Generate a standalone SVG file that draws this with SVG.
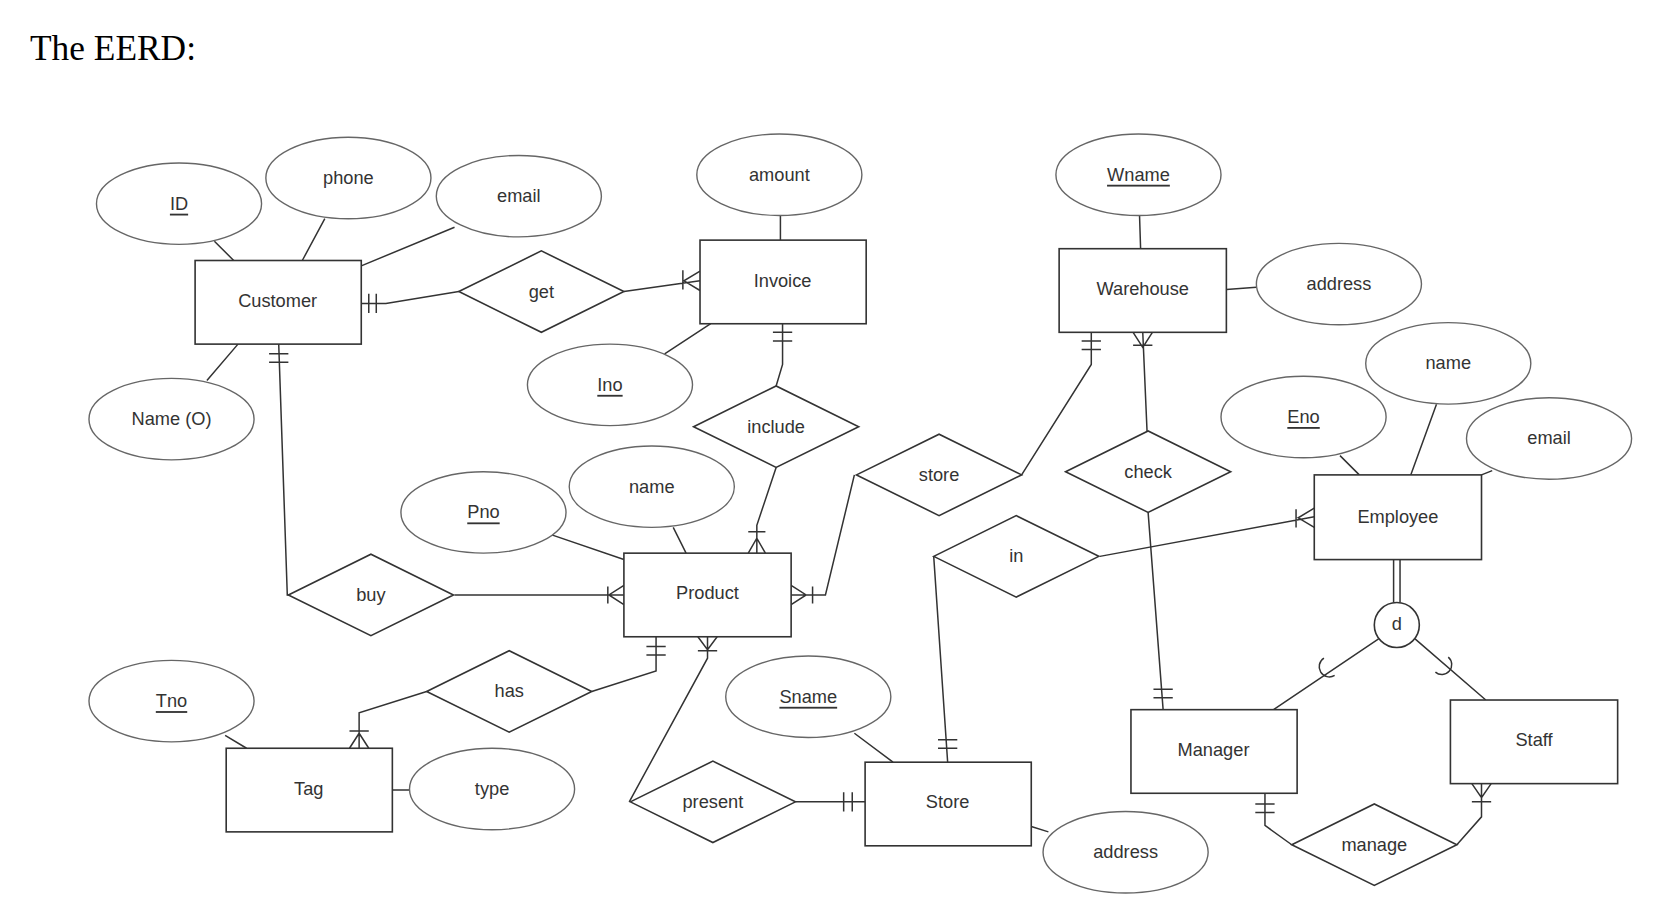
<svg xmlns="http://www.w3.org/2000/svg" width="1676" height="900" viewBox="0 0 1676 900">
<style>
.e{fill:#fff;stroke:#666;stroke-width:1.3}
.r{fill:#fff;stroke:#333;stroke-width:1.5}
.c{fill:none;stroke:#333;stroke-width:1.4}
text{font-family:"Liberation Sans",Arial,sans-serif;font-size:17px;fill:#333;text-anchor:middle;dominant-baseline:central}
.u{text-decoration:underline}
</style>
<rect width="1676" height="900" fill="#fff"/>
<g transform="scale(1.072)">
<text x="28" y="45" style="font-family:'Liberation Serif',serif;font-size:33px;fill:#000;text-anchor:start">The EERD:</text>
<g id="connectors" class="c">
<path d="M200,225L218,243M303,204L282,243M424,212L337,248M193,355L222,321"/>
<path d="M337,283L360,283L428,272M344,274V292M351,274V292"/>
<path d="M582,272L653,262M637,252V270M653,253L638,262L653,271"/>
<path d="M728,201V224M620,330L663,302"/>
<path d="M730,302V340L724,360M721,310H739M721,318H739"/>
<path d="M724,436L706,490V516M698,496H714M698,516L706,502L714,516"/>
<path d="M260,321L268,555L270,555M251,330H269M251,338H269"/>
<path d="M424,555H582M567,547V563M582,546L568,555L582,564"/>
<path d="M512,498L582,522M628,492L640,516"/>
<path d="M738,555H770L797,443M758,547V563M738,546L752,555L738,564"/>
<path d="M953,443L1018,340V310M1009,318H1027M1009,326H1027"/>
<path d="M1144,270L1172,268M1063,201L1064,232"/>
<path d="M1066,310L1070,402M1057,322H1075M1057,310L1066,324L1075,310"/>
<path d="M1071,478L1085,662M1076,643H1094M1076,651H1094"/>
<path d="M1026,519L1226,482M1209,475V492M1226,474L1211,483L1226,492"/>
<path d="M871,519L884,711M875,690H893M875,698H893"/>
<path d="M1250,425L1268,443M1340,377L1316,443M1392,439L1382,443"/>
<path d="M1300,522V562M1306,522V562"/>
<path d="M1286,596L1188,662M1320,596L1386,653"/>
<path d="M1235,614A9,9 0 0 0 1245,630M1339,627A9,9 0 0 0 1351,613"/>
<path d="M1180,740V770L1205,788M1171,750H1189M1171,758H1189"/>
<path d="M1359,788L1382,762V731M1373,748H1391M1373,731L1382,744L1391,731"/>
<path d="M612,594V626L552,645M603,603H621M603,611H621"/>
<path d="M398,645L335,665V698M326,682H344M326,698L335,684L344,698"/>
<path d="M210,686L230,698M366,737H382"/>
<path d="M660,594V614L587,748M651,607H669M651,594L660,606L669,594"/>
<path d="M742,748H807M787,739V757M795,739V757"/>
<path d="M797,684L833,711M962,771L978,776"/>
</g>
<g id="n_ID"><ellipse class="e" cx="167" cy="190" rx="77" ry="38"/><text class="u" x="167" y="190">ID</text></g>
<g id="n_phone"><ellipse class="e" cx="325" cy="166" rx="77" ry="38"/><text x="325" y="166">phone</text></g>
<g id="n_email"><ellipse class="e" cx="484" cy="183" rx="77" ry="38"/><text x="484" y="183">email</text></g>
<g id="n_nameO"><ellipse class="e" cx="160" cy="391" rx="77" ry="38"/><text x="160" y="391">Name (O)</text></g>
<g id="n_amount"><ellipse class="e" cx="727" cy="163" rx="77" ry="38"/><text x="727" y="163">amount</text></g>
<g id="n_Ino"><ellipse class="e" cx="569" cy="359" rx="77" ry="38"/><text class="u" x="569" y="359">Ino</text></g>
<g id="n_Wname"><ellipse class="e" cx="1062" cy="163" rx="77" ry="38"/><text class="u" x="1062" y="163">Wname</text></g>
<g id="n_waddr"><ellipse class="e" cx="1249" cy="265" rx="77" ry="38"/><text x="1249" y="265">address</text></g>
<g id="n_ename"><ellipse class="e" cx="1351" cy="339" rx="77" ry="38"/><text x="1351" y="339">name</text></g>
<g id="n_Eno"><ellipse class="e" cx="1216" cy="389" rx="77" ry="38"/><text class="u" x="1216" y="389">Eno</text></g>
<g id="n_eemail"><ellipse class="e" cx="1445" cy="409" rx="77" ry="38"/><text x="1445" y="409">email</text></g>
<g id="n_Pno"><ellipse class="e" cx="451" cy="478" rx="77" ry="38"/><text class="u" x="451" y="478">Pno</text></g>
<g id="n_pname"><ellipse class="e" cx="608" cy="454" rx="77" ry="38"/><text x="608" y="454">name</text></g>
<g id="n_Tno"><ellipse class="e" cx="160" cy="654" rx="77" ry="38"/><text class="u" x="160" y="654">Tno</text></g>
<g id="n_type"><ellipse class="e" cx="459" cy="736" rx="77" ry="38"/><text x="459" y="736">type</text></g>
<g id="n_Sname"><ellipse class="e" cx="754" cy="650" rx="77" ry="38"/><text class="u" x="754" y="650">Sname</text></g>
<g id="n_saddr"><ellipse class="e" cx="1050" cy="795" rx="77" ry="38"/><text x="1050" y="795">address</text></g>
<g id="Customer"><rect class="r" x="182" y="243" width="155" height="78"/><text x="259" y="281">Customer</text></g>
<g id="Invoice"><rect class="r" x="653" y="224" width="155" height="78"/><text x="730" y="262">Invoice</text></g>
<g id="Warehouse"><rect class="r" x="988" y="232" width="156" height="78"/><text x="1066" y="270">Warehouse</text></g>
<g id="Employee"><rect class="r" x="1226" y="443" width="156" height="79"/><text x="1304" y="482">Employee</text></g>
<g id="Product"><rect class="r" x="582" y="516" width="156" height="78"/><text x="660" y="553">Product</text></g>
<g id="Tag"><rect class="r" x="211" y="698" width="155" height="78"/><text x="288" y="736">Tag</text></g>
<g id="Store"><rect class="r" x="807" y="711" width="155" height="78"/><text x="884" y="748">Store</text></g>
<g id="Manager"><rect class="r" x="1055" y="662" width="155" height="78"/><text x="1132" y="700">Manager</text></g>
<g id="Staff"><rect class="r" x="1353" y="653" width="156" height="78"/><text x="1431" y="690">Staff</text></g>
<g id="d"><circle class="r" cx="1303" cy="583" r="21"/><text x="1303" y="582">d</text></g>
<g id="get"><polygon class="r" points="428,272 505,234 582,272 505,310"/><text x="505" y="272">get</text></g>
<g id="include"><polygon class="r" points="647,398 724,360 801,398 724,436"/><text x="724" y="398">include</text></g>
<g id="store"><polygon class="r" points="799,443 876,405 953,443 876,481"/><text x="876" y="443">store</text></g>
<g id="check"><polygon class="r" points="994,440 1071,402 1148,440 1071,478"/><text x="1071" y="440">check</text></g>
<g id="in"><polygon class="r" points="871,519 948,481 1025,519 948,557"/><text x="948" y="519">in</text></g>
<g id="buy"><polygon class="r" points="269,555 346,517 423,555 346,593"/><text x="346" y="555">buy</text></g>
<g id="has"><polygon class="r" points="398,645 475,607 552,645 475,683"/><text x="475" y="645">has</text></g>
<g id="present"><polygon class="r" points="588,748 665,710 742,748 665,786"/><text x="665" y="748">present</text></g>
<g id="manage"><polygon class="r" points="1205,788 1282,750 1359,788 1282,826"/><text x="1282" y="788">manage</text></g>
</g>
</svg>
